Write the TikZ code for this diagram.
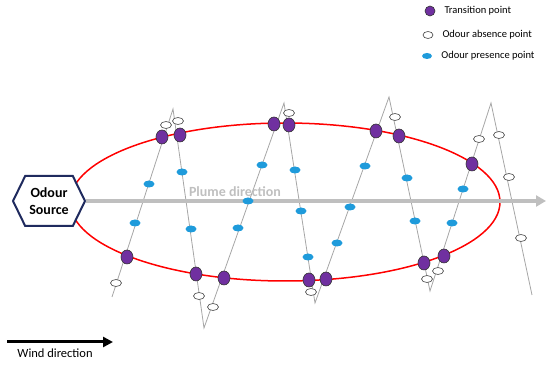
\documentclass[tikz,border=0pt]{standalone}
\usepackage{fontspec}
\setmainfont{Carlito}
\usetikzlibrary{arrows.meta, positioning, shapes.geometric, shapes.symbols}
\definecolor{transcol}{HTML}{7030A0}
\definecolor{prescol}{HTML}{1F9BDB}
\definecolor{navy}{HTML}{1F2A5E}
\tikzset{
  transition/.style={ellipse,draw=black!80,fill=transcol,line width=0.6pt,minimum width=12pt,minimum height=14pt,inner sep=0pt},
  absence/.style={ellipse,draw=black!75,fill=white,line width=0.6pt,minimum width=11pt,minimum height=7pt,inner sep=0pt},
  presence/.style={ellipse,fill=prescol,minimum width=11pt,minimum height=7pt,inner sep=0pt},
  source/.style={signal,signal to=east and west,signal pointer angle=128,draw=navy,line width=2pt,fill=white,align=center,minimum width=72pt,minimum height=50pt,inner sep=0pt,font=\fontsize{14}{17}\selectfont\bfseries},
  track/.style={draw=black!35,line width=0.8pt},
  edge/.style={draw=red,line width=1.5pt},
  plume/.style={draw=black!25,line width=3.5pt,-{Triangle[length=10pt,width=11pt]}},
  wind/.style={draw=black,line width=3pt,-{Triangle[length=10pt,width=10pt]}},
  legend/.style={font=\fontsize{10.5}{12}\selectfont,inner sep=0pt}
}

\begin{document}
\begin{tikzpicture}[x=1pt, y=-1pt, node distance=9pt]
\useasboundingbox (0,0) rectangle (550,366);
% zigzag track
\coordinate (z0) at (112,297);
\coordinate (z1) at (173,109);
\coordinate (z2) at (204,328);
\coordinate (z3) at (284,103);
\coordinate (z4) at (315,303);
\coordinate (z5) at (389,97);
\coordinate (z6) at (430,291);
\coordinate (z7) at (491,103);
\coordinate (z8) at (532,295);
\draw[track] (z0) -- (z1) -- (z2) -- (z3) -- (z4) -- (z5) -- (z6) -- (z7) -- (z8);
% plume edge
\draw[edge] (285,202) ellipse [x radius=215, y radius=79];
\node[source] (src) at (49,201) {Odour\\Source};
\coordinate (pe) at (546,201);
\draw[plume] (src.east) -- (pe);
\node[font=\fontsize{14}{17}\selectfont\bfseries, text=black!25, inner sep=0pt] (plbl) at (235,192) {Plume direction};
% transition points
\node[transition] (t1) at (162,137) {};
\node[transition] (t2) at (180,135) {};
\node[transition] (t3) at (274,124) {};
\node[transition] (t4) at (289,125) {};
\node[transition] (t5) at (376,131) {};
\node[transition] (t6) at (399,136) {};
\node[transition] (t7) at (472,164) {};
\node[transition] (t8) at (127,257) {};
\node[transition] (t9) at (196,274) {};
\node[transition] (t10) at (224,278) {};
\node[transition] (t11) at (309,280) {};
\node[transition] (t12) at (326,279) {};
\node[transition] (t13) at (424,263) {};
\node[transition] (t14) at (444,256) {};
% absence points
\node[absence] (a1) at (166,125) {};
\node[absence] (a2) at (178,121) {};
\node[absence] (a3) at (289,113) {};
\node[absence] (a4) at (395,117) {};
\node[absence] (a5) at (479,139) {};
\node[absence] (a6) at (499,135) {};
\node[absence] (a7) at (509,177) {};
\node[absence] (a8) at (521,238) {};
\node[absence] (a9) at (116,283) {};
\node[absence] (a10) at (199,296) {};
\node[absence] (a11) at (213,307) {};
\node[absence] (a12) at (311,292) {};
\node[absence] (a13) at (427,279) {};
\node[absence] (a14) at (438,271) {};
% presence points
\node[presence] (p1) at (149,184) {};
\node[presence] (p2) at (135,223) {};
\node[presence] (p3) at (182,172) {};
\node[presence] (p4) at (191,229) {};
\node[presence] (p5) at (262,165) {};
\node[presence] (p6) at (248,201) {};
\node[presence] (p7) at (238,228) {};
\node[presence] (p8) at (295,170) {};
\node[presence] (p9) at (301,211) {};
\node[presence] (p10) at (308,257) {};
\node[presence] (p11) at (365,166) {};
\node[presence] (p12) at (350,207) {};
\node[presence] (p13) at (337,243) {};
\node[presence] (p14) at (407,178) {};
\node[presence] (p15) at (415,221) {};
\node[presence] (p16) at (463,189) {};
\node[presence] (p17) at (452,223) {};
% legend
\node[transition, minimum width=10pt, minimum height=10pt] (lt) at (430,11) {};
\node[absence, minimum width=10pt] (la) at (428,35) {};
\node[presence, minimum width=10pt, minimum height=6pt] (lp) at (427,56) {};
\node[legend, right=of lt] (ltxt) {Transition point};
\node[legend, right=of la] (latxt) {Odour absence point};
\node[legend, right=of lp] (lptxt) {Odour presence point};
% wind
\coordinate (w0) at (7,342);
\coordinate (w1) at (113,342);
\draw[wind] (w0) -- (w1);
\node[legend, font=\fontsize{12.5}{14}\selectfont] (wlbl) at (55,353) {Wind direction};
\end{tikzpicture}
\end{document}
